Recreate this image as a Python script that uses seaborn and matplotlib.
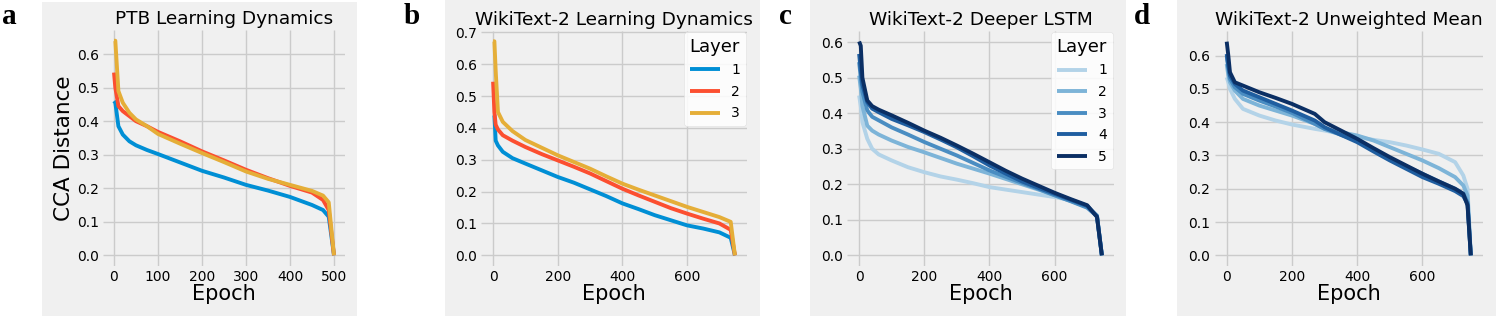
import numpy as np
import pandas as pd
import seaborn as sns
import matplotlib.pyplot as plt
from matplotlib.patches import Rectangle

# --- data (CCA distance vs epoch) ---
ptb_epochs = [0, 3, 10, 20, 35, 50, 75, 100, 150, 200, 250, 300, 350, 400, 450, 475, 488, 500]
ptb_l1 = [0.46, 0.455, 0.385, 0.36, 0.34, 0.328, 0.314, 0.302, 0.277, 0.252, 0.232, 0.21, 0.193, 0.174, 0.15, 0.135, 0.115, 0.0]
ptb_l2 = [0.545, 0.50, 0.445, 0.43, 0.415, 0.40, 0.385, 0.368, 0.34, 0.31, 0.283, 0.255, 0.23, 0.207, 0.187, 0.165, 0.135, 0.0]
ptb_l3 = [0.64, 0.64, 0.49, 0.455, 0.425, 0.405, 0.385, 0.362, 0.333, 0.305, 0.278, 0.25, 0.228, 0.21, 0.192, 0.178, 0.158, 0.0]

wiki_epochs = [0, 4, 8, 15, 30, 60, 100, 150, 200, 250, 300, 350, 400, 450, 500, 550, 600, 650, 700, 735, 748]
wiki_l1 = [0.44, 0.44, 0.36, 0.345, 0.325, 0.305, 0.288, 0.267, 0.246, 0.228, 0.207, 0.186, 0.163, 0.145, 0.126, 0.11, 0.094, 0.084, 0.072, 0.055, 0.0]
wiki_l2 = [0.545, 0.45, 0.41, 0.395, 0.377, 0.36, 0.34, 0.318, 0.298, 0.278, 0.257, 0.233, 0.209, 0.188, 0.168, 0.148, 0.131, 0.115, 0.1, 0.08, 0.0]
wiki_l3 = [0.672, 0.672, 0.58, 0.45, 0.419, 0.39, 0.362, 0.338, 0.314, 0.293, 0.272, 0.248, 0.225, 0.206, 0.188, 0.17, 0.152, 0.136, 0.12, 0.105, 0.0]

deep_epochs = [0, 5, 10, 25, 40, 60, 100, 150, 200, 250, 300, 350, 400, 450, 500, 550, 600, 650, 700, 730, 745]
deep_l1 = [0.45, 0.42, 0.375, 0.328, 0.30, 0.284, 0.267, 0.248, 0.234, 0.222, 0.213, 0.203, 0.192, 0.185, 0.178, 0.171, 0.164, 0.155, 0.138, 0.112, 0.0]
deep_l2 = [0.506, 0.47, 0.42, 0.365, 0.351, 0.34, 0.323, 0.305, 0.29, 0.274, 0.258, 0.244, 0.23, 0.215, 0.2, 0.185, 0.169, 0.153, 0.136, 0.112, 0.0]
deep_l3 = [0.544, 0.50, 0.46, 0.408, 0.39, 0.38, 0.36, 0.34, 0.319, 0.3, 0.281, 0.26, 0.239, 0.221, 0.204, 0.187, 0.169, 0.152, 0.134, 0.11, 0.0]
deep_l4 = [0.567, 0.52, 0.48, 0.431, 0.413, 0.403, 0.384, 0.366, 0.347, 0.326, 0.304, 0.279, 0.253, 0.23, 0.208, 0.19, 0.173, 0.156, 0.139, 0.11, 0.0]
deep_l5 = [0.602, 0.59, 0.50, 0.436, 0.42, 0.41, 0.394, 0.373, 0.351, 0.331, 0.309, 0.286, 0.262, 0.238, 0.216, 0.196, 0.176, 0.158, 0.141, 0.108, 0.0]

mean_epochs = [0, 5, 10, 25, 50, 100, 150, 200, 270, 300, 350, 400, 450, 500, 550, 600, 650, 700, 725, 738, 748]
mean_l1 = [0.535, 0.52, 0.50, 0.47, 0.44, 0.42, 0.405, 0.393, 0.38, 0.375, 0.365, 0.355, 0.347, 0.34, 0.33, 0.318, 0.305, 0.28, 0.24, 0.2, 0.0]
mean_l2 = [0.575, 0.54, 0.52, 0.495, 0.47, 0.45, 0.435, 0.42, 0.395, 0.38, 0.37, 0.36, 0.345, 0.325, 0.305, 0.285, 0.262, 0.235, 0.21, 0.18, 0.0]
mean_l3 = [0.60, 0.56, 0.53, 0.505, 0.485, 0.465, 0.447, 0.428, 0.395, 0.38, 0.362, 0.345, 0.318, 0.29, 0.268, 0.245, 0.222, 0.2, 0.185, 0.16, 0.0]
mean_l4 = [0.605, 0.57, 0.54, 0.515, 0.495, 0.475, 0.455, 0.435, 0.405, 0.385, 0.362, 0.34, 0.312, 0.285, 0.26, 0.235, 0.215, 0.193, 0.178, 0.155, 0.0]
mean_l5 = [0.642, 0.60, 0.55, 0.52, 0.51, 0.49, 0.473, 0.455, 0.425, 0.40, 0.375, 0.35, 0.322, 0.295, 0.27, 0.245, 0.222, 0.2, 0.185, 0.15, 0.0]

titles = ["PTB Learning Dynamics", "WikiText-2 Learning Dynamics",
          "WikiText-2 Deeper LSTM", "WikiText-2 Unweighted Mean"]
letters = ["a", "b", "c", "d"]
xticks = [[0, 100, 200, 300, 400, 500], [0, 200, 400, 600],
          [0, 200, 400, 600], [0, 200, 400, 600]]

pal3 = ["#008fd5", "#fc4f30", "#e5ae38"]
pal5 = ["#b3d3e8", "#7db4d8", "#4a8dc2", "#1f5ea0", "#0b2f64"]


def long_df(epochs, layers):
    rows = []
    for i, vals in enumerate(layers):
        rows.append(pd.DataFrame({"Epoch": epochs, "CCA": vals, "Layer": str(i + 1)}))
    return pd.concat(rows, ignore_index=True)


panels = [
    long_df(ptb_epochs, [ptb_l1, ptb_l2, ptb_l3]),
    long_df(wiki_epochs, [wiki_l1, wiki_l2, wiki_l3]),
    long_df(deep_epochs, [deep_l1, deep_l2, deep_l3, deep_l4, deep_l5]),
    long_df(mean_epochs, [mean_l1, mean_l2, mean_l3, mean_l4, mean_l5]),
]
palettes = [pal3, pal3, pal5, pal5]
show_legend = [False, True, True, False]

plt.style.use("fivethirtyeight")
plt.rcParams["font.family"] = "DejaVu Sans"
plt.rcParams["lines.linewidth"] = 2.8

W, H = 1496, 321
fig = plt.figure(figsize=(W / 100, H / 100), dpi=100, facecolor="white")

# gray panel backgrounds (px: left, right, top, bottom)
bgs = [(42, 357, 2, 316), (445, 760, 0, 316), (810, 1126, 0, 316), (1177, 1496, 0, 316)]
# axes boxes (px)
boxes = [(103, 345, 30, 266), (481, 747, 30.6, 266), (847, 1114, 30.8, 266), (1214.5, 1483, 31, 266)]
letter_x = [2, 404, 779, 1134]

for (l, r, t, b) in bgs:
    fig.patches.append(Rectangle((l / W, 1 - b / H), (r - l) / W, (b - t) / H,
                                 transform=fig.transFigure, facecolor="#f0f0f0",
                                 edgecolor="none", zorder=-10))

for i, df in enumerate(panels):
    l, r, t, b = boxes[i]
    ax = fig.add_axes([l / W, 1 - b / H, (r - l) / W, (b - t) / H])
    ax.set_facecolor("#f0f0f0")
    sns.lineplot(data=df, x="Epoch", y="CCA", hue="Layer", palette=palettes[i],
                 estimator=None, linewidth=2.8, ax=ax, legend=show_legend[i])
    ax.set_title(titles[i], fontsize=13.3, pad=4)
    ax.set_xlabel("Epoch", fontsize=15, labelpad=0)
    ax.set_ylabel("CCA Distance" if i == 0 else "", fontsize=15.5, labelpad=2)
    ax.set_xticks(xticks[i])
    ax.tick_params(labelsize=10, pad=3, length=0)
    ax.grid(True, color="#cbcbcb", linewidth=1)
    for s in ax.spines.values():
        s.set_visible(False)
    if show_legend[i]:
        leg = ax.legend(title="Layer", loc="upper right", fontsize=10,
                        title_fontsize=13, handlelength=2.2, borderaxespad=0.1,
                        labelspacing=0.55, facecolor="white", framealpha=0.85,
                        edgecolor="#e0e0e0")
        leg._legend_box.align = "right"
    fig.text(letter_x[i] / W, 1 - 24 / H, letters[i], fontsize=21, fontweight="bold",
             family="Liberation Serif", ha="left", va="baseline")

fig.savefig("out.png", dpi=100, facecolor="white")
